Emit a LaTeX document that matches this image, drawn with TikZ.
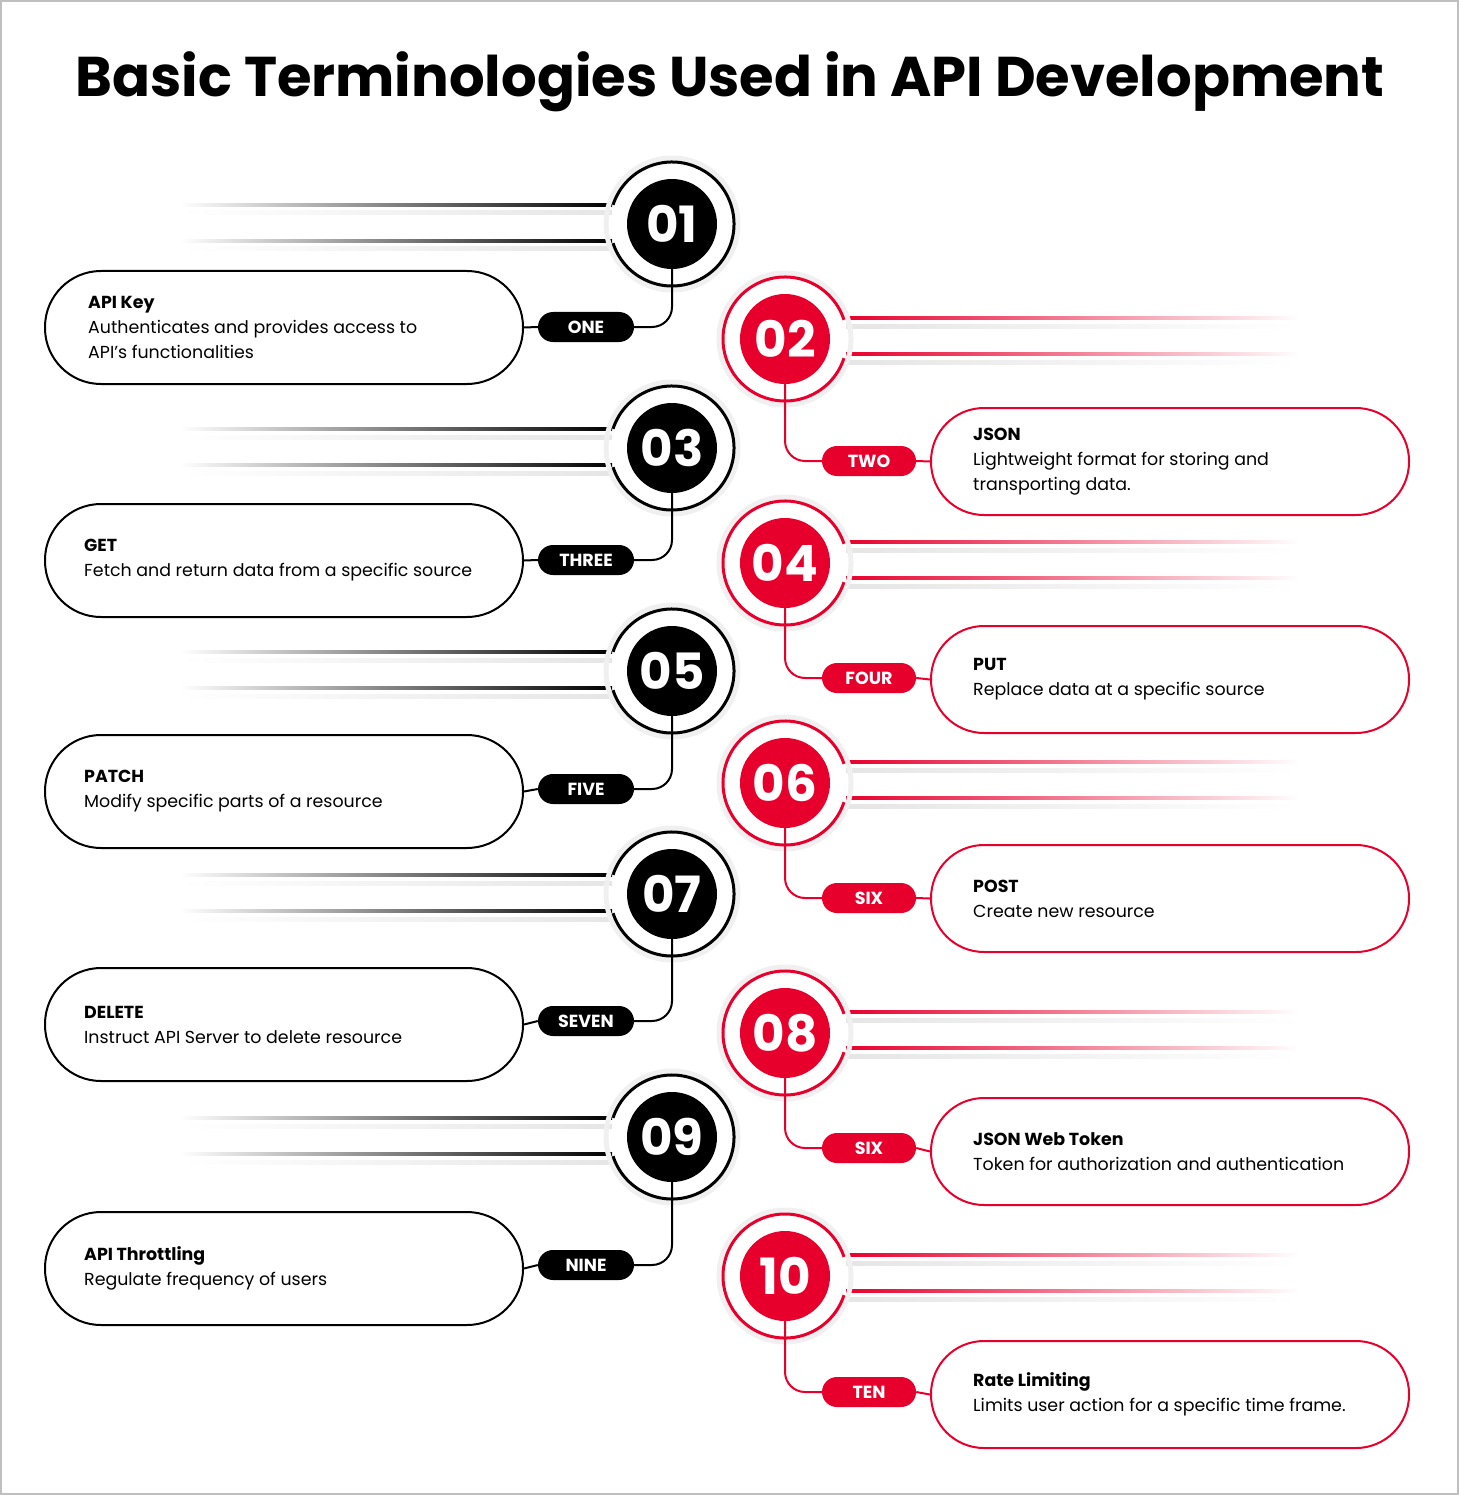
\documentclass[tikz,border=0pt]{standalone}
\usepackage{fontspec}
\setmainfont{Poppins}
\definecolor{rd}{HTML}{E8002D}
\newcommand\numf{\fontsize{50}{50}\selectfont\bfseries}
\newcommand\pillf{\fontsize{17.5}{17.5}\selectfont\bfseries}
\newcommand\bodyf{\fontsize{17.4}{25}\selectfont}
\newcommand\blkrow[8]{% id cy boxcy pilly word title desc textx
 \shade[left color=white,right color=black] (180,#2-20.5) rectangle (612,#2-17.5);
 \shade[left color=white,right color=black] (180,#2+15.5) rectangle (612,#2+18.5);
 \shade[left color=white,right color=black!10] (180,#2-13) rectangle (612,#2-9);
 \shade[left color=white,right color=black!10] (180,#2+23) rectangle (612,#2+27);
 \draw[line width=5pt,black!6] (672,#2) circle[radius=66];
 \draw[line width=3pt] (672,#2) ++(162:62) arc[start angle=162,end angle=-162,radius=62];
 \node[circle,fill=black,minimum size=90pt,text=white,font=\numf] (c#1) at (672,#2) {#1};
 \node[draw,line width=2pt,minimum width=478pt,minimum height=113pt,rounded corners=56pt] (b#1) at (284,#3) {};
 \node[fill=black,text=white,font=\pillf,minimum width=96pt,minimum height=30pt,rounded corners=15pt,inner sep=0pt] (p#1) at (586,#4) {#5};
 \draw[line width=2pt,rounded corners=20pt] (c#1.south) |- (p#1.east);
 \draw[line width=2pt] (p#1.west) -- (b#1.east);
 \node[anchor=west,align=left,font=\bodyf,inner sep=0pt] (t#1) at (#8,#3) {\textbf{#6}\\#7};
}
\newcommand\redrow[7]{% id cy boxcy pilly word title desc
 \shade[left color=rd,right color=white] (846,#2-22.5) rectangle (1300,#2-19.5);
 \shade[left color=rd,right color=white] (846,#2+13.5) rectangle (1300,#2+16.5);
 \shade[left color=black!10,right color=white] (846,#2-15) rectangle (1300,#2-11);
 \shade[left color=black!10,right color=white] (846,#2+21) rectangle (1300,#2+25);
 \draw[line width=5pt,black!6] (785,#2) circle[radius=66];
 \draw[line width=3pt,rd] (785,#2) ++(18:62) arc[start angle=18,end angle=342,radius=62];
 \node[circle,fill=rd,minimum size=90pt,text=white,font=\numf] (c#1) at (785,#2) {#1};
 \node[draw=rd,line width=2pt,minimum width=478pt,minimum height=107pt,rounded corners=53pt] (b#1) at (1170,#3) {};
 \node[fill=rd,text=white,font=\pillf,minimum width=94pt,minimum height=30pt,rounded corners=15pt,inner sep=0pt] (p#1) at (869,#4) {#5};
 \draw[rd,line width=2pt,rounded corners=20pt] (c#1.south) |- (p#1.west);
 \draw[rd,line width=2pt] (p#1.east) -- (b#1.west);
 \node[anchor=west,align=left,font=\bodyf,inner sep=0pt] (t#1) at (973,#3) {\textbf{#6}\\#7};
}
\begin{document}
\begin{tikzpicture}[x=1pt,y=-1pt]
\useasboundingbox (0,0) rectangle (1459,1495);
\draw[black!25,line width=2pt] (1,1) rectangle (1458,1494);
\node[font=\fontsize{56}{56}\selectfont\bfseries] (title) at (730,82) {Basic Terminologies Used in API Development};
\blkrow{01}{224}{327.5}{327}{ONE}{API Key}{Authenticates and provides access to\\API’s functionalities}{88}
\redrow{02}{339}{461.5}{461}{TWO}{JSON}{Lightweight format for storing and\\transporting data.}
\blkrow{03}{448}{560.5}{560}{THREE}{GET}{Fetch and return data from a specific source}{84}
\redrow{04}{563}{679.5}{678}{FOUR}{PUT}{Replace data at a specific source}
\blkrow{05}{671}{791.5}{789}{FIVE}{PATCH}{Modify specific parts of a resource}{84}
\redrow{06}{783}{898.5}{898}{SIX}{POST}{Create new resource}
\blkrow{07}{894}{1024.5}{1021}{SEVEN}{DELETE}{Instruct API Server to delete resource}{84}
\redrow{08}{1033}{1151.5}{1148}{SIX}{JSON Web Token}{Token for authorization and authentication}
\blkrow{09}{1137}{1268.5}{1265}{NINE}{API Throttling}{Regulate frequency of users}{84}
\redrow{10}{1276}{1394.5}{1392}{TEN}{Rate Limiting}{Limits user action for a specific time frame.}
\end{tikzpicture}
\end{document}
